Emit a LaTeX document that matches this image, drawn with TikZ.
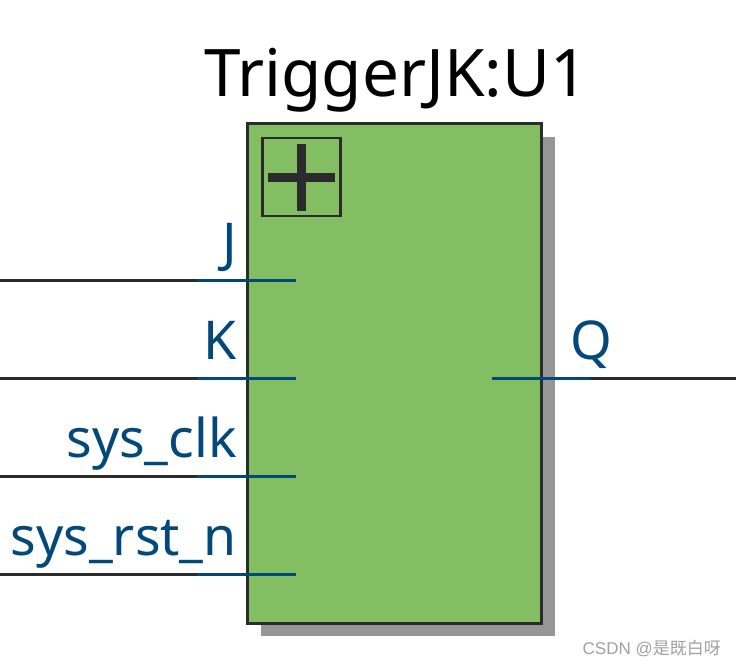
\documentclass[tikz,border=0pt]{standalone}
\usepackage{fontspec}
\setmainfont{Noto Sans}
\newfontfamily\cjkfont{Noto Sans CJK SC}
\newfontfamily\markfont{Liberation Sans}
\usetikzlibrary{positioning,calc}
\definecolor{blockgreen}{HTML}{83BF62}
\definecolor{blockdark}{HTML}{2B2B2E}
\definecolor{pinblue}{HTML}{02487A}
\definecolor{shadowgray}{HTML}{969696}
\definecolor{markgray}{HTML}{A0A0A0}

\begin{document}
\begin{tikzpicture}[x=1pt,y=-1pt,
    block/.style={shape=rectangle, draw=blockdark, fill=blockgreen, line width=3pt, inner sep=0pt, minimum width=294pt, minimum height=499pt},
    shade/.style={shape=rectangle, fill=shadowgray, inner sep=0pt, minimum width=294pt, minimum height=499pt},
    expand/.style={shape=rectangle, draw=blockdark, line width=2.5pt, inner sep=0pt, minimum width=78pt, minimum height=78pt},
    bar/.style={draw=blockdark, line width=9pt},
    pin/.style={draw=pinblue, line width=3pt},
    wire/.style={draw=blockdark, line width=3pt},
    pinlabel/.style={text=pinblue, inner sep=0pt, font=\fontsize{53.5}{60}\selectfont},
  ]
    \useasboundingbox (0,0) rectangle (736,666);
    \node [shade] (s) at (408,386.5) {};
    \node [block] (b) at (394.5,373.5) {};
    \node [anchor=base, inner sep=0pt, font=\fontsize{65.6}{80}\selectfont] (title) at (396,97) {TriggerJK:U1};
    \node [expand] (e) at (301.5,177) {};
    \coordinate (el) at (268,177);
    \coordinate (er) at (335,177);
    \coordinate (et) at (301,144);
    \coordinate (eb) at (301,211);
    \draw [bar] (el) -- (er);
    \draw [bar] (et) -- (eb);
    % left pins
    \foreach \name/\txt/\y in {j/J/280,k/K/378,clk/sys\_clk/476,rst/sys\_rst\_n/574} {
      \coordinate (\name0) at (0,\y);
      \coordinate (\name1) at (197,\y);
      \coordinate (\name2) at (296,\y);
      \draw [wire] (\name0) -- (\name1);
      \draw [pin] (\name1) -- (\name2);
      \node [pinlabel, anchor=base east] (\name) at (237,\y-19) {\txt};
    }
    % right pin
    \coordinate (q0) at (492,378);
    \coordinate (q1) at (590,378);
    \coordinate (q2) at (736,378);
    \draw [pin] (q0) -- (q1);
    \draw [wire] (q1) -- (q2);
    \node [pinlabel, anchor=base west] (q) at (570,359) {Q};
    \node [anchor=base east, inner sep=0pt, text=markgray, font=\markfont\fontsize{17}{20}\selectfont] (mark) at (721,654) {CSDN @{\cjkfont 是既白呀}};
  \end{tikzpicture}
\end{document}
